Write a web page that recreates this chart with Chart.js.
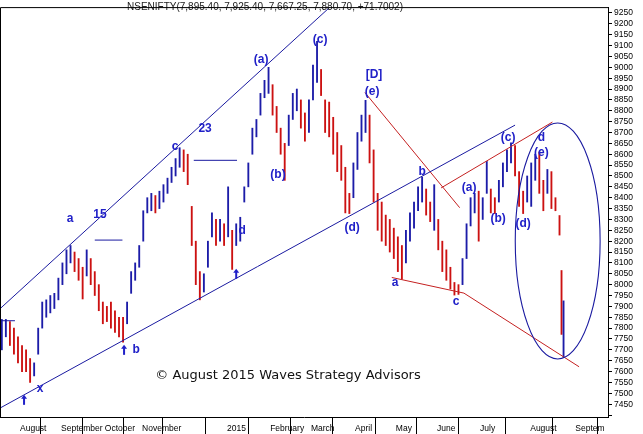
<!DOCTYPE html>
<html><head><meta charset="utf-8">
<script src="https://cdn.jsdelivr.net/npm/chart.js@4.4.1/dist/chart.umd.min.js"></script>
<style>html,body{margin:0;padding:0;background:#fff;overflow:hidden}#wrap{width:643px;height:434px}</style>
</head><body><div id="wrap"><canvas id="c" width="643" height="434"></canvas></div>
<script>
// trading-day index of each bar (0 = 1 Aug 2014)
const firstDay = -9, dayStep = 2;
const highs = [
7840,7840,7830,7800,7760,7720,7700,7660,7640,7800,
7920,7930,7950,7960,8030,8100,8160,8180,8150,8120,
8080,8160,8120,8060,8000,7920,7900,7920,7880,7850,
7850,7920,8060,8100,8180,8340,8400,8420,8410,8430,
8460,8490,8540,8580,8630,8620,8600,8360,8200,8060,
8050,8200,8330,8300,8300,8280,8450,8250,8280,8310,
8450,8560,8720,8760,8880,8940,9000,8920,8820,8720,
8650,8780,8880,8900,8850,8790,8850,9010,9119,8990,
8850,8840,8770,8700,8640,8540,8420,8560,8700,8780,
8848,8780,8620,8420,8380,8320,8300,8260,8220,8180,
8250,8330,8380,8450,8495,8440,8380,8460,8300,8200,
8160,8080,8010,8000,8120,8280,8400,8420,8430,8400,
8567,8440,8400,8480,8560,8620,8653,8640,8520,8430,
8500,8560,8600,8610,8480,8530,8520,8400,8318];
const lows = [
7700,7760,7720,7680,7640,7600,7600,7550,7580,7680,
7800,7850,7870,7890,7930,8000,8050,8100,8060,8020,
7934,8040,8000,7950,7880,7820,7830,7800,7780,7760,
7735,7820,7960,8020,8080,8200,8330,8340,8330,8350,
8380,8420,8470,8500,8540,8520,8460,8180,8000,7930,
7966,8080,8220,8180,8200,8180,8220,8070,8180,8200,
8380,8450,8600,8680,8780,8860,8880,8780,8700,8600,
8480,8640,8760,8800,8720,8660,8700,8850,8930,8870,
8700,8680,8600,8520,8480,8330,8327,8400,8530,8660,
8700,8560,8380,8250,8200,8180,8150,8120,8060,8025,
8100,8200,8260,8340,8380,8320,8290,8250,8160,8060,
8020,7980,7952,7955,8000,8120,8270,8330,8200,8300,
8420,8330,8327,8380,8450,8520,8560,8500,8360,8327,
8380,8360,8480,8420,8340,8420,8350,8340,8228];
// final sessions (day, high, low)
const tailDays = [268, 269];
const tailHighs = [8065, 7925.40];
const tailLows = [7771, 7667.25];
const lastBar = [7895.40, 7925.40, 7667.25, 7880.70, 71.7002]; // O H L C change
const monthDays = [0, 20.3, 42, 60.4, 80.7, 102.5, 123.8, 144, 165.8, 186, 206.4, 227.7, 252.5, 274.8];
const monthNames = ["August","September","October","November","","2015","February","March","April","May","June","July","August","Septem"];
const waveLabels = [
 ["a",24.8,8305],["15",39.6,8323],["c",76.7,8635],["23",91.6,8716],["(a)",119.3,9037],["(c)",148.5,9128],
 ["[D]",175.2,8965],["(e)",174.3,8888],["(b)",127.7,8508],["(d)",164.4,8264],["d",110,8246],["b",199,8522],
 ["a",185.6,8011],["c",215.8,7920],["(a)",222.3,8445],["(b)",236.6,8305],["(c)",241.6,8676],["(d)",249,8282],
 ["d",258,8676],["(e)",258,8608],["b",57.5,7703],["x",9.9,7522]];
const arrows = [[2,7470],[51.5,7700],[107,8050]];
const blueLines = [
 [[-9.9,7889],[153.4,9277]],
 [[-9.9,7432],[245,8734]],
 [[86,8572],[107.4,8572]],
 [[37,8205],[50.7,8205]],
 [[-9.9,7834],[-2.5,7834]]];
const redLines = [
 [[170.7,8884],[217.6,8354]],
 [[208.4,8445],[263.5,8748]],
 [[184,8033],[219.7,7961],[276.7,7622]]];
const ellipse = {d:266.1, p:8201, rd:21.0, pTop:8744};

const BLUE="#1c1ca8", RED="#cc1111";
const barData=[], barColors=[];
let prevMid=null;
highs.forEach((h,i)=>{const l=lows[i];const m=(h+l)/2;
  barData.push({x:firstDay+i*dayStep,y:[l,h]});
  barColors.push(prevMid===null||m>=prevMid?BLUE:RED);prevMid=m;});
tailDays.forEach((d,i)=>{barData.push({x:d,y:[tailLows[i],tailHighs[i]]});
  barColors.push(i===tailDays.length-1?(lastBar[4]>0?BLUE:RED):RED);});

const datasets=[{type:'bar',data:barData,backgroundColor:barColors,barThickness:1.2,grouped:false,order:2}];
blueLines.forEach(s=>datasets.push({type:'line',data:s.map(p=>({x:p[0],y:p[1]})),borderColor:"#1a1aa0",borderWidth:1,pointRadius:0,tension:0,order:1}));
redLines.forEach(s=>datasets.push({type:'line',data:s.map(p=>({x:p[0],y:p[1]})),borderColor:"#c42020",borderWidth:1,pointRadius:0,tension:0,order:1}));

const fmt=v=>v.toLocaleString('en-US',{minimumFractionDigits:2,maximumFractionDigits:2});
const overlay={id:'overlay',afterDatasetsDraw(chart){
  const {ctx,scales:{x,y},chartArea:a}=chart;
  ctx.save();
  ctx.beginPath();ctx.rect(a.left,a.top,a.right-a.left,a.bottom-a.top);ctx.clip();
  const cx=x.getPixelForValue(ellipse.d), cy=y.getPixelForValue(ellipse.p);
  const rx=x.getPixelForValue(ellipse.d+ellipse.rd)-cx, ry=cy-y.getPixelForValue(ellipse.pTop);
  ctx.strokeStyle="#1a1aa0";ctx.lineWidth=1.1;ctx.beginPath();ctx.ellipse(cx,cy,rx,ry,0,0,Math.PI*2);ctx.stroke();
  ctx.fillStyle="#2020c8";ctx.font="bold 12px 'Liberation Sans', Arial";ctx.textAlign="center";ctx.textBaseline="middle";
  waveLabels.forEach(([t,d,p])=>ctx.fillText(t,x.getPixelForValue(d),y.getPixelForValue(p)));
  ctx.strokeStyle="#2020c8";ctx.lineWidth=2;
  arrows.forEach(([d,p])=>{const px=x.getPixelForValue(d),py=y.getPixelForValue(p);
    ctx.beginPath();ctx.moveTo(px,py+5);ctx.lineTo(px,py-3);ctx.stroke();
    ctx.beginPath();ctx.moveTo(px-3,py-1);ctx.lineTo(px,py-5);ctx.lineTo(px+3,py-1);ctx.closePath();ctx.fill();});
  ctx.fillStyle="#111";ctx.font="13px 'DejaVu Sans'";ctx.textAlign="center";
  ctx.fillText("© August 2015 Waves Strategy Advisors",288,376);
  ctx.restore();
  ctx.save();ctx.fillStyle="#222";ctx.font="10px 'Liberation Sans', Arial";ctx.textAlign="center";ctx.textBaseline="middle";
  ctx.fillText("NSENIFTY("+lastBar.slice(0,4).map(fmt).join(", ")+", +"+lastBar[4].toFixed(4)+")",265,7);
  ctx.strokeStyle="#000";ctx.lineWidth=1;ctx.beginPath();ctx.moveTo(a.left+0.5,a.bottom);ctx.lineTo(a.left+0.5,a.top+0.5);ctx.lineTo(a.right,a.top+0.5);ctx.stroke();
  ctx.restore();
}};

new Chart(document.getElementById('c'),{
  data:{datasets},
  options:{responsive:false,animation:false,events:[],
    layout:{padding:0},
    plugins:{legend:{display:false},tooltip:{enabled:false}},
    scales:{
      x:{type:'linear',min:-9.9,max:291,offset:false,
        afterBuildTicks:s=>{s.ticks=monthDays.map(v=>({value:v}));},
        afterFit:s=>{s.height=17;},
        ticks:{autoSkip:false,maxRotation:0,align:'start',padding:-10,color:"#000",font:{size:8.5,family:"'Liberation Sans Narrow', 'Liberation Sans', Arial"},
          callback:(v,i)=>monthNames[i]},
        grid:{drawOnChartArea:false,tickLength:17,color:"#000"},border:{color:"#000"}},
      y:{position:'right',min:7391,max:9277,
        afterBuildTicks:s=>{const t=[];for(let v=7400;v<=9250;v+=50)t.push({value:v});s.ticks=t;},
        afterFit:s=>{s.width=35;},
        ticks:{autoSkip:false,color:"#000",padding:2,font:{size:8.5,family:"'Liberation Sans', Arial"},callback:v=>v<7450?"":String(v)},
        grid:{drawOnChartArea:false,tickLength:4,color:"#000"},border:{color:"#000"}}
    }},
  plugins:[overlay]
});
</script></body></html>
